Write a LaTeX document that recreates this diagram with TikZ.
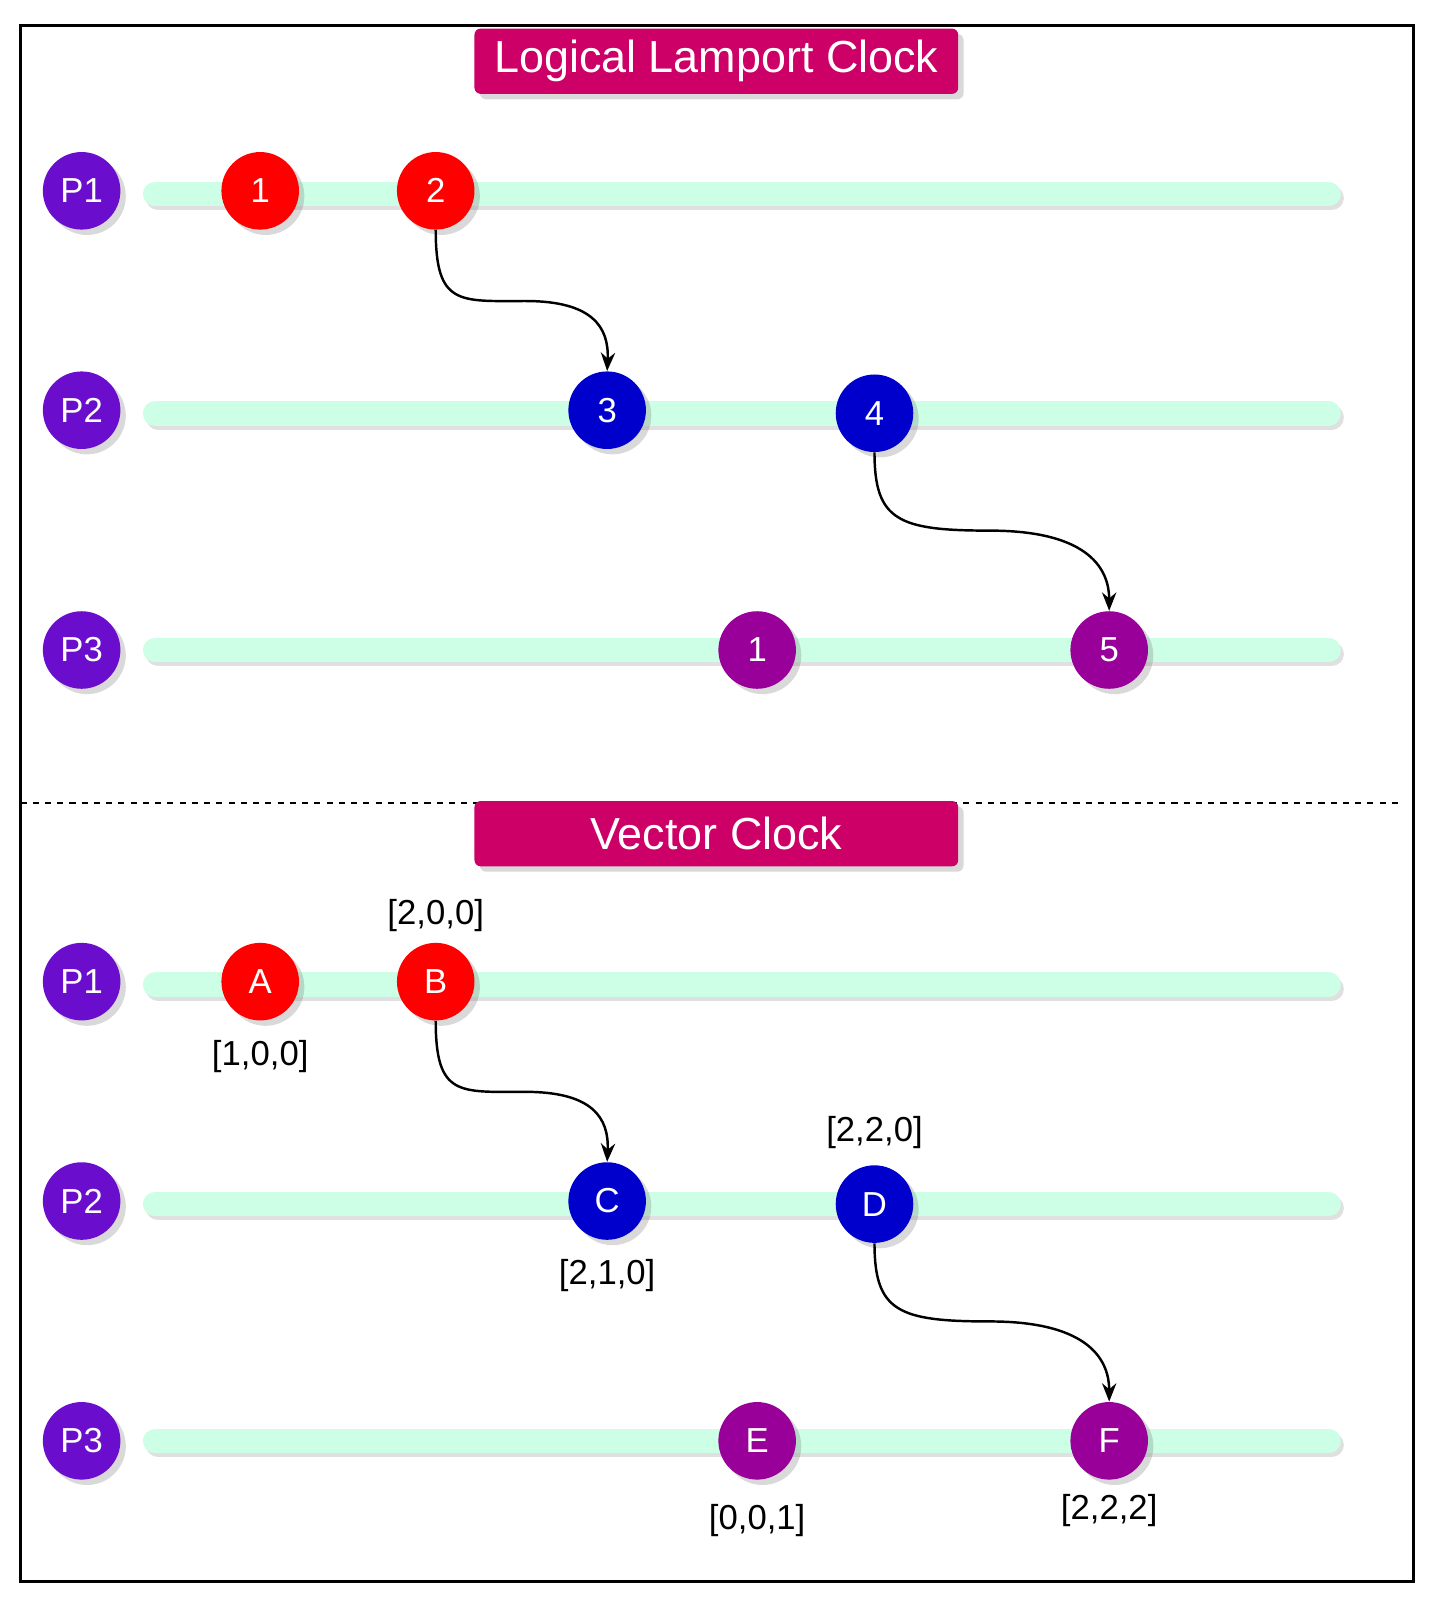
\documentclass[tikz,border=0pt]{standalone}
\usepackage{fontspec}
\setmainfont{Liberation Sans}
\usetikzlibrary{shadows,arrows.meta}
\definecolor{ttl}{HTML}{CC0066}
\definecolor{pp}{HTML}{6A0DCC}
\definecolor{ev1}{HTML}{FF0000}
\definecolor{ev2}{HTML}{0000CC}
\definecolor{ev3}{HTML}{990099}
\definecolor{tl}{HTML}{CCFFE6}
\begin{document}
\begin{tikzpicture}[x=0.5pt,y=-0.5pt,
  titlebox/.style={fill=ttl,rounded corners=3pt,text=white,font=\fontsize{22}{26}\selectfont,drop shadow={opacity=0.3}},
  pnode/.style={circle,fill=pp,minimum size=38pt,inner sep=0,text=white,font=\fontsize{17}{20}\selectfont,drop shadow={opacity=0.3}},
  evnode/.style={circle,minimum size=38pt,inner sep=0,text=white,font=\fontsize{17}{20}\selectfont,drop shadow={opacity=0.3}},
  lbl/.style={font=\fontsize{17}{20}\selectfont},
  tline/.style={line width=12pt,draw=tl,line cap=round},
  tshadow/.style={line width=12pt,draw=black,opacity=0.12,line cap=round},
  msg/.style={line width=1.2pt,-{Stealth[length=9pt,width=7pt]}}]
\useasboundingbox (0,0) rectangle (1406,1568);
\draw[line width=1.5pt] (20,25) rectangle (1385,1550);
\draw[dashed,line width=1pt] (20,787) -- (1375,787);
\foreach \y/\n in {190/a,405/b,637/c,965/d,1180/e,1412/f}{
  \draw[tshadow] (155,\y+4) -- (1305,\y+4);
  \draw[tline] (152,\y) coordinate(s\n) -- (1302,\y) coordinate(e\n);
}
\node[titlebox,minimum width=237pt,minimum height=32pt] (t1) at (702,60) {Logical Lamport Clock};
\node[titlebox,minimum width=237pt,minimum height=32pt] (t2) at (702,817) {Vector Clock};
\foreach \y/\n/\t in {187/p1/P1,402/p2/P2,637/p3/P3,962/q1/P1,1177/q2/P2,1412/q3/P3}{
  \node[pnode] (\n) at (80,\y) {\t};
}
\node[evnode,fill=ev1] (l1) at (255,187) {1};
\node[evnode,fill=ev1] (l2) at (427,187) {2};
\node[evnode,fill=ev2] (l3) at (595,402) {3};
\node[evnode,fill=ev2] (l4) at (857,405) {4};
\node[evnode,fill=ev3] (l5) at (742,637) {1};
\node[evnode,fill=ev3] (l6) at (1087,637) {5};
\node[evnode,fill=ev1] (vA) at (255,962) {A};
\node[evnode,fill=ev1] (vB) at (427,962) {B};
\node[evnode,fill=ev2] (vC) at (595,1177) {C};
\node[evnode,fill=ev2] (vD) at (857,1180) {D};
\node[evnode,fill=ev3] (vE) at (742,1412) {E};
\node[evnode,fill=ev3] (vF) at (1087,1412) {F};
\draw[msg] (l2.south) .. controls (427,300) and (450,295) .. (515,295) .. controls (580,295) and (597,320) .. (l3.north);
\draw[msg] (l4.south) .. controls (857,510) and (880,520) .. (970,520) .. controls (1070,520) and (1087,560) .. (l6.north);
\draw[msg] (vB.south) .. controls (427,1075) and (450,1070) .. (515,1070) .. controls (580,1070) and (597,1095) .. (vC.north);
\draw[msg] (vD.south) .. controls (857,1285) and (880,1295) .. (970,1295) .. controls (1070,1295) and (1087,1335) .. (vF.north);
\node[lbl] (la) at (427,897) {[2,0,0]};
\node[lbl] (lb) at (255,1035) {[1,0,0]};
\node[lbl] (lc) at (857,1110) {[2,2,0]};
\node[lbl] (ld) at (595,1250) {[2,1,0]};
\node[lbl] (le) at (742,1490) {[0,0,1]};
\node[lbl] (lf) at (1087,1480) {[2,2,2]};
\end{tikzpicture}
\end{document}
